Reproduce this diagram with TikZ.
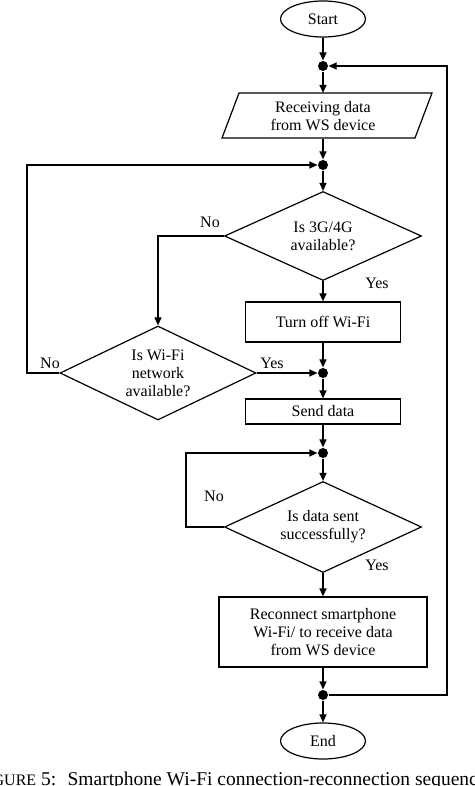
\documentclass[tikz,border=0pt]{standalone}
\usepackage{fontspec}
\setmainfont{Liberation Serif}
\usetikzlibrary{shapes.geometric,arrows.meta}
\begin{document}
\begin{tikzpicture}[x=1pt,y=-1pt, line width=1.2pt, >={Triangle[length=8pt,width=7pt]},
 every node/.style={font=\fontsize{16}{18}\selectfont, align=center},
 term/.style={ellipse, draw, minimum width=85pt, minimum height=36pt, inner sep=0pt},
 junc/.style={circle, fill=black, minimum size=10pt, inner sep=0pt},
 proc/.style={rectangle, draw, inner sep=0pt},
 dec/.style={diamond, draw, inner sep=0pt, aspect=2.2},
 lbl/.style={inner sep=0pt},
 captext/.style={inner sep=0pt, font=\fontsize{19.5}{22}\selectfont}]
\useasboundingbox (0,0) rectangle (474,786);
\clip (0,0) rectangle (474,786);
\node[term] (start) at (323,19) {Start};
\node[junc] (j1) at (323,66) {};
\node[inner sep=0pt, minimum width=176pt, minimum height=45pt] (recv) at (323,116) {Receiving data\\from WS device};
\draw (239,93) -- (432,93) -- (415,138) -- (222,138) -- cycle;
\node[junc] (j2) at (323,165) {};
\node[dec, minimum width=197pt, minimum height=89pt] (q1) at (323,236) {Is 3G/4G\\available?};
\node[proc, minimum width=155pt, minimum height=40pt] (off) at (323,322) {Turn off Wi-Fi};
\node[dec, minimum width=196pt, minimum height=94pt] (q2) at (158,373) {Is Wi-Fi\\network\\available?};
\node[junc] (j3) at (323,373) {};
\node[proc, minimum width=155pt, minimum height=25pt] (send) at (323,411.5) {Send data};
\node[junc] (j4) at (323,453) {};
\node[dec, minimum width=197pt, minimum height=91pt] (q3) at (323,527) {Is data sent\\successfully?};
\node[proc, minimum width=208pt, minimum height=70pt] (rec) at (323,632) {Reconnect smartphone\\Wi-Fi/ to receive data\\from WS device};
\node[junc] (j5) at (323,695) {};
\node[term] (end) at (323,741) {End};
\coordinate (lx) at (27,0);
\coordinate (mx) at (186,0);
\coordinate (rx) at (447,0);
\draw[->] (start) -- (j1);
\draw[->] (j1) -- (recv.north);
\draw[->] (recv.south) -- (j2);
\draw[->] (j2) -- (q1.north);
\draw[->] (q1.south) -- (off.north);
\draw[->] (q1.west) -| (q2.north);
\draw[->] (off.south) -- (j3);
\draw[->] (q2.east) -- (j3);
\draw[->] (q2.west) -- (q2.west -| lx) -- (j2 -| lx) -- (j2);
\draw[->] (j3) -- (send.north);
\draw[->] (send.south) -- (j4);
\draw[->] (j4) -- (q3.north);
\draw[->] (q3.west) -- (q3.west -| mx) -- (j4 -| mx) -- (j4);
\draw[->] (q3.south) -- (rec.north);
\draw[->] (rec.south) -- (j5);
\draw[->] (j5) -- (end.north);
\draw[->] (j5) -- (j5 -| rx) -- (j1 -| rx) -- (j1);
\node[lbl] (l1) at (210,222) {No};
\node[lbl] (l2) at (377,283) {Yes};
\node[lbl] (l3) at (50,363) {No};
\node[lbl] (l4) at (272,363) {Yes};
\node[lbl] (l5) at (214,496) {No};
\node[lbl] (l6) at (377,565) {Yes};
\node[captext, anchor=base east] (c1) at (57,785) {F{\fontsize{16}{22}\selectfont IGURE}\hspace{5pt}5:};
\node[captext, anchor=base west] (c2) at (67,785) {Smartphone Wi-Fi connection-reconnection sequence.};
\end{tikzpicture}
\end{document}
